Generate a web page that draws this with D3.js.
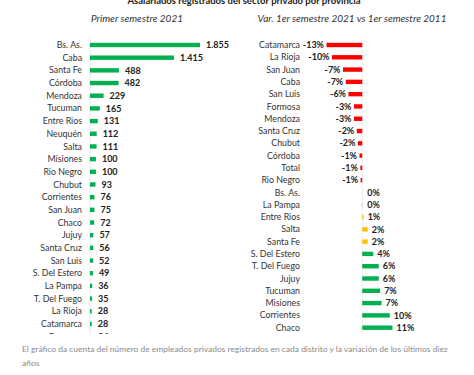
<!DOCTYPE html>
<html>
<head>
<meta charset="utf-8">
<script src="https://cdn.jsdelivr.net/npm/d3@7"></script>
<style>
  body { margin: 0; background: #fff; }
  svg { display: block; }
</style>
</head>
<body>
<div id="grafico"></div>
<script>
// Primer semestre 2021 (miles de asalariados)
const provLeft = ["Bs. As.", "Caba", "Santa Fe", "Córdoba", "Mendoza", "Tucuman", "Entre Rios",
  "Neuquén", "Salta", "Misiones", "Rio Negro", "Chubut", "Corrientes", "San Juan", "Chaco",
  "Jujuy", "Santa Cruz", "San Luis", "S. Del Estero", "La Pampa", "T. Del Fuego", "La Rioja",
  "Catamarca", "Formosa"];
const valLeft = [1855, 1415, 488, 482, 229, 165, 131, 112, 111, 100, 100, 93, 76, 75, 72,
  57, 56, 52, 49, 36, 35, 28, 28, 34];

// Var. 1er semestre 2021 vs 1er semestre 2011 (%)
const provRight = ["Catamarca", "La Rioja", "San Juan", "Caba", "San Luis", "Formosa", "Mendoza",
  "Santa Cruz", "Chubut", "Córdoba", "Total", "Rio Negro", "Bs. As.", "La Pampa", "Entre Rios",
  "Salta", "Santa Fe", "S. Del Estero", "T. Del Fuego", "Jujuy", "Tucuman", "Misiones",
  "Corrientes", "Chaco"];
const valRight = [-13, -11, -7, -6, -5, -3, -3, -2, -1.6, -1, -0.7, -0.6, 0, -0.2, 0.5,
  2, 2, 4, 6, 6, 6.5, 7, 10, 11];
const labRight = ["-13%", "-10%", "-7%", "-7%", "-6%", "-3%", "-3%", "-2%", "-2%", "-1%", "-1%", "-1%",
  "0%", "0%", "1%", "2%", "2%", "4%", "6%", "6%", "7%", "7%", "10%", "11%"];

const W = 474, H = 375;
const font = "Lato, 'Open Sans', sans-serif";
const green = "#00b050", red = "#ff0000", yellow = "#ffc000";

const svg = d3.select("#grafico")
              .append("svg")
              .attr("width", W)
              .attr("height", H);

svg.append("defs").append("clipPath")
   .attr("id", "corte")
   .append("rect")
   .attr("x", 0).attr("y", 0)
   .attr("width", W).attr("height", 334);

const chart = svg.append("g").attr("clip-path", "url(#corte)");

chart.append("text")
     .attr("x", 244).attr("y", 4)
     .attr("text-anchor", "middle")
     .style("font-family", font).style("font-size", "9.5px").style("font-weight", "bold")
     .style("fill", "#222")
     .text("Asalariados registrados del sector privado por provincia");

chart.append("text")
     .attr("x", 137).attr("y", 21.5)
     .attr("text-anchor", "middle")
     .style("font-family", font).style("font-size", "10px").style("font-style", "italic")
     .style("fill", "#333")
     .text("Primer semestre 2021");

chart.append("text")
     .attr("x", 352).attr("y", 21.5)
     .attr("text-anchor", "middle")
     .style("font-family", font).style("font-size", "10px").style("font-style", "italic")
     .style("fill", "#333")
     .text("Var. 1er semestre 2021 vs 1er semestre 2011");

// ---- panel izquierdo
const xL = d3.scaleLinear().domain([0, 1855]).range([90, 200]);
const yL = d3.scalePoint().domain(provLeft).range([45, 45 + 23 * 12.68]);
const dataL = provLeft.map((p, i) => ({ p, v: valLeft[i] }));

chart.append("line")
     .attr("x1", xL(0)).attr("x2", xL(0))
     .attr("y1", 38).attr("y2", 345)
     .attr("stroke", "#d9d9d9").attr("stroke-width", 0.6);

const left = chart.append("g");
left.selectAll("rect")
    .data(dataL)
    .join("rect")
    .attr("x", xL(0))
    .attr("y", d => yL(d.p) - 2.2)
    .attr("width", d => xL(d.v) - xL(0))
    .attr("height", 4.4)
    .attr("fill", green);

left.selectAll(".cat")
    .data(dataL)
    .join("text")
    .attr("class", "cat")
    .attr("x", 82)
    .attr("y", d => yL(d.p))
    .attr("dy", "0.35em")
    .attr("text-anchor", "end")
    .style("font-family", font).style("font-size", "8.8px").style("fill", "#333")
    .text(d => d.p);

left.selectAll(".val")
    .data(dataL)
    .join("text")
    .attr("class", "val")
    .attr("x", d => xL(d.v) + 6)
    .attr("y", d => yL(d.p))
    .attr("dy", "0.35em")
    .style("font-family", font).style("font-size", "9px").style("font-weight", "bold")
    .style("fill", "#222")
    .text(d => d3.format(",")(d.v).replace(",", "."));

// ---- panel derecho
const xR = d3.scaleLinear().domain([-13, 11]).range([362 - 35.5, 362 + 30.5]);
const yR = d3.scalePoint().domain(provRight).range([45, 45 + 23 * 12.29]);
const dataR = provRight.map((p, i) => ({ p, v: valRight[i], l: labRight[i] }));
const colorR = v => v < 0 ? red : (v < 3 ? yellow : green);

chart.append("line")
     .attr("x1", xR(0)).attr("x2", xR(0))
     .attr("y1", 38).attr("y2", 345)
     .attr("stroke", "#e3e3e3").attr("stroke-width", 0.6);

const right = chart.append("g");
right.selectAll("rect")
     .data(dataR)
     .join("rect")
     .attr("x", d => Math.min(xR(0), xR(d.v)))
     .attr("y", d => yR(d.p) - 2.2)
     .attr("width", d => Math.abs(xR(d.v) - xR(0)))
     .attr("height", 4.4)
     .attr("fill", d => d.l === "0%" ? "#f4a0a0" : colorR(d.v));

right.selectAll(".cat")
     .data(dataR)
     .join("text")
     .attr("class", "cat")
     .attr("x", 300)
     .attr("y", d => yR(d.p))
     .attr("dy", "0.35em")
     .attr("text-anchor", "end")
     .style("font-family", font).style("font-size", "8.8px").style("fill", "#333")
     .text(d => d.p);

right.selectAll(".val")
     .data(dataR)
     .join("text")
     .attr("class", "val")
     .attr("x", d => d.l.startsWith("-") ? xR(d.v) - 2.5 : Math.max(xR(d.v), xR(0) + 1) + 4)
     .attr("y", d => yR(d.p))
     .attr("dy", "0.35em")
     .attr("text-anchor", d => d.l.startsWith("-") ? "end" : "start")
     .style("font-family", font).style("font-size", "9px").style("font-weight", "bold")
     .style("fill", "#222")
     .text(d => d.l);

// ---- epígrafe
const capLines = ["El gráfico da cuenta del número de empleados privados registrados en cada distrito y la variación de los últimos diez",
  "años"];
const cap = svg.append("g")
   .selectAll("text")
   .data(capLines)
   .join("text")
   .attr("x", 22)
   .attr("y", (d, i) => 352 + i * 14)
   .style("font-family", font).style("font-size", "10px")
   .style("fill", "#8a8a8a")
   .text(d => d);

// ajustar el tamaño para que la primera línea ocupe ~426px
const w0 = cap.nodes()[0].getComputedTextLength();
const fs = Math.min(10, 10 * 426 / w0);
cap.style("font-size", fs + "px");
</script>
</body>
</html>
